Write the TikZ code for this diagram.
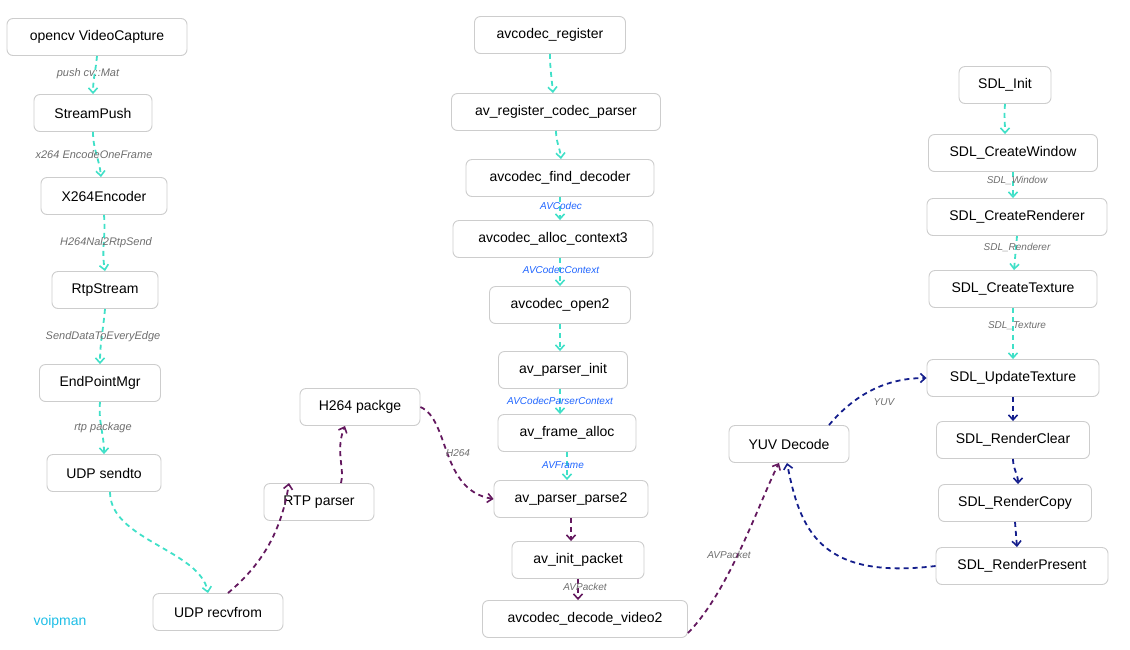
\documentclass[tikz,border=0pt]{standalone}
\usepackage{fontspec}
\setmainfont{Liberation Sans}
\usetikzlibrary{arrows.meta}
\definecolor{teal1}{RGB}{64,224,200}
\definecolor{purp}{RGB}{100,25,95}
\definecolor{navy1}{RGB}{20,30,140}
\definecolor{lblgray}{RGB}{110,110,110}
\definecolor{lblblue}{RGB}{30,100,255}
\definecolor{bord}{RGB}{205,205,205}
\tikzset{
 box/.style={draw=bord,line width=0.9pt,rounded corners=6pt,fill=white,minimum height=37pt,inner sep=0pt,font=\fontsize{14}{16}\selectfont},
 lk/.style={dash pattern=on 5pt off 4pt,line width=1.8pt,-{Straight Barb[length=5pt,width=9pt,line width=1.6pt]}},
 tl/.style={lk,teal1},
 pl/.style={lk,purp},
 nl/.style={lk,navy1},
 gl/.style={font=\fontsize{11}{12}\selectfont\itshape,text=lblgray},
 bl/.style={font=\fontsize{10}{12}\selectfont\itshape,text=lblblue},
 sl/.style={font=\fontsize{10}{12}\selectfont\itshape,text=lblgray},
}
\begin{document}
\begin{tikzpicture}[x=1pt,y=-1pt]
\useasboundingbox (0,0) rectangle (1130,649);
% left column
\node[box,minimum width=180pt] (ocv) at (97,37) {opencv VideoCapture};
\node[box,minimum width=118pt] (sp) at (93,113) {StreamPush};
\node[box,minimum width=126pt] (x264) at (104,196) {X264Encoder};
\node[box,minimum width=106pt] (rtp) at (105,290) {RtpStream};
\node[box,minimum width=121pt] (epm) at (100,383) {EndPointMgr};
\node[box,minimum width=114pt] (uds) at (104,473) {UDP sendto};
\node[box,minimum width=130pt] (udr) at (218,612) {UDP recvfrom};
\node[box,minimum width=110pt] (rtpp) at (319,502) {RTP parser};
\node[box,minimum width=120pt] (h264) at (360,407) {H264 packge};
% middle column
\node[box,minimum width=151pt] (reg) at (550,35) {avcodec\_register};
\node[box,minimum width=209pt] (regp) at (556,112) {av\_register\_codec\_parser};
\node[box,minimum width=188pt] (find) at (560,178) {avcodec\_find\_decoder};
\node[box,minimum width=200pt] (alloc) at (553,239) {avcodec\_alloc\_context3};
\node[box,minimum width=141pt] (open) at (560,305) {avcodec\_open2};
\node[box,minimum width=129pt] (pinit) at (563,370) {av\_parser\_init};
\node[box,minimum width=138pt] (falloc) at (567,433) {av\_frame\_alloc};
\node[box,minimum width=154pt] (parse) at (571,499) {av\_parser\_parse2};
\node[box,minimum width=132pt] (ipkt) at (578,560) {av\_init\_packet};
\node[box,minimum width=205pt] (dec) at (585,619) {avcodec\_decode\_video2};
\node[box,minimum width=120pt] (yuv) at (789,444) {YUV Decode};
% right column
\node[box,minimum width=92pt] (init) at (1005,85) {SDL\_Init};
\node[box,minimum width=169pt] (win) at (1013,153) {SDL\_CreateWindow};
\node[box,minimum width=180pt] (ren) at (1017,217) {SDL\_CreateRenderer};
\node[box,minimum width=168pt] (tex) at (1013,289) {SDL\_CreateTexture};
\node[box,minimum width=172pt] (upd) at (1013,378) {SDL\_UpdateTexture};
\node[box,minimum width=153pt] (clr) at (1013,440) {SDL\_RenderClear};
\node[box,minimum width=153pt] (cpy) at (1015,503) {SDL\_RenderCopy};
\node[box,minimum width=172pt] (pres) at (1022,566) {SDL\_RenderPresent};
\node[font=\fontsize{14}{16}\selectfont,text={rgb,255:red,30;green,190;blue,230}] (vm) at (60,622) {voipman};
% left edges
\draw[tl] (ocv.south) to[out=-95,in=90] (sp.north);
\draw[tl] (sp.south) to[out=-90,in=95] ([xshift=8pt]sp.south |- x264.north);
\draw[tl] (x264.south) to[out=-85,in=100] (rtp.north);
\draw[tl] (rtp.south) to[out=-95,in=90] (epm.north);
\draw[tl] (epm.south) to[out=-95,in=90] (uds.north);
\draw[tl] ([xshift=6pt]uds.south) .. controls (110,540) and (200,550) .. ([xshift=-10pt]udr.north);
\draw[pl] ([xshift=10pt]udr.north) .. controls (255,570) and (280,540) .. ([xshift=-30pt]rtpp.north);
\draw[pl] ([xshift=22pt]rtpp.north) .. controls (345,470) and (335,450) .. ([xshift=-15pt]h264.south);
\draw[pl] (h264.east) .. controls (450,420) and (440,490) .. (parse.west);
\node[gl] at (88,74) {push cv::Mat};
\node[gl] at (94,155) {x264 EncodeOneFrame};
\node[gl] at (106,243) {H264Nal2RtpSend};
\node[gl] at (103,337) {SendDataToEveryEdge};
\node[gl] at (103,428) {rtp package};
\node[sl] at (458,453) {H264};
% middle edges
\draw[tl] (reg.south) to[out=-90,in=95] ([xshift=3pt]reg.south |- regp.north);
\draw[tl] (regp.south) to[out=-90,in=95] ([xshift=5pt]regp.south |- find.north);
\draw[tl] (find.south) -- (find.south |- alloc.north);
\draw[tl] ([xshift=7pt]alloc.south) -- ([xshift=7pt]alloc.south |- open.north);
\draw[tl] (open.south) -- (open.south |- pinit.north);
\draw[tl] ([xshift=-3pt]pinit.south) -- ([xshift=-3pt]pinit.south |- falloc.north);
\draw[tl] (falloc.south) -- (falloc.south |- parse.north);
\draw[pl] (parse.south) -- (parse.south |- ipkt.north);
\draw[pl] (ipkt.south) -- (ipkt.south |- dec.north);
\node[bl] at (561,206) {AVCodec};
\node[bl] at (561,270) {AVCodecContext};
\node[bl] at (560,401) {AVCodecParserContext};
\node[bl] at (563,465) {AVFrame};
\node[sl] at (585,587) {AVPacket};
% right side
\draw[pl] ([yshift=-14pt]dec.east) .. controls (730,590) and (760,500) .. ([xshift=-10pt]yuv.south);
\node[sl] at (729,555) {AVPacket};
\draw[nl] ([xshift=40pt]yuv.north) .. controls (850,400) and (880,378) .. (upd.west);
\node[sl] at (884,402) {YUV};
\draw[nl] (pres.west) .. controls (820,580) and (800,530) .. ([xshift=-2pt]yuv.south);
\draw[tl] (init.south) to[out=-95,in=90] (init.south |- win.north);
\draw[tl] (win.south) -- (win.south |- ren.north);
\draw[tl] (ren.south) -- ([xshift=-3pt]ren.south |- tex.north);
\draw[tl] (tex.south) -- (tex.south |- upd.north);
\draw[nl] (upd.south) -- (upd.south |- clr.north);
\draw[nl] (clr.south) to[out=-90,in=90] ([xshift=5pt]clr.south |- cpy.north);
\draw[nl] (cpy.south) -- ([xshift=2pt]cpy.south |- pres.north);
\node[sl] at (1017,180) {SDL\_Window};
\node[sl] at (1017,247) {SDL\_Renderer};
\node[sl] at (1017,326) {SDL\_Texture};
\end{tikzpicture}
\end{document}
